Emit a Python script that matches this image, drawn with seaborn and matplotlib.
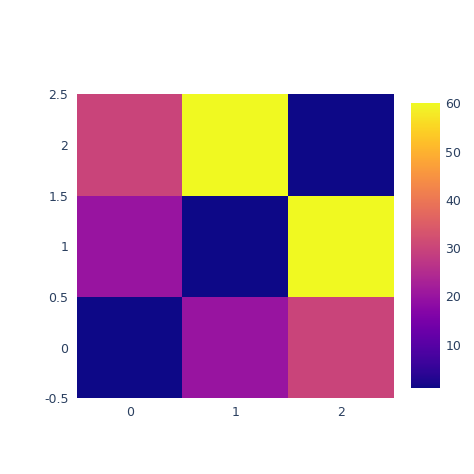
import numpy as np
import matplotlib
matplotlib.use("Agg")
import matplotlib.pyplot as plt
import seaborn as sns

# heatmap values, rows from y=0 (bottom) upward
x_labels = ["0", "1", "2"]
y_labels = ["-0.5", "0", "0.5", "1", "1.5", "2", "2.5"]
z = np.array([
    [1, 20, 30],
    [20, 1, 60],
    [30, 60, 1],
])

txt = "#2a3f5f"
fig = plt.figure(figsize=(4.74, 4.74), dpi=100)
ax = fig.add_axes([0.162, 0.160, 0.669, 0.641])
cax = fig.add_axes([0.867, 0.181, 0.061, 0.601])

sns.heatmap(z, cmap="plasma", vmin=1, vmax=60, ax=ax, cbar_ax=cax,
            xticklabels=False, yticklabels=False)
ax.invert_yaxis()
ax.set_xticks([0.5, 1.5, 2.5])
ax.set_xticklabels(x_labels)
ax.set_yticks(np.arange(0, 3.01, 0.5))
ax.set_yticklabels(y_labels, rotation=0)
ax.tick_params(colors=txt, labelsize=9, length=0, pad=6)
for s in ax.spines.values():
    s.set_visible(False)

cax.set_yticks([10, 20, 30, 40, 50, 60])
cax.tick_params(colors=txt, labelsize=9, length=0, pad=4)
for s in cax.spines.values():
    s.set_visible(False)

fig.savefig("out.png", dpi=100)
